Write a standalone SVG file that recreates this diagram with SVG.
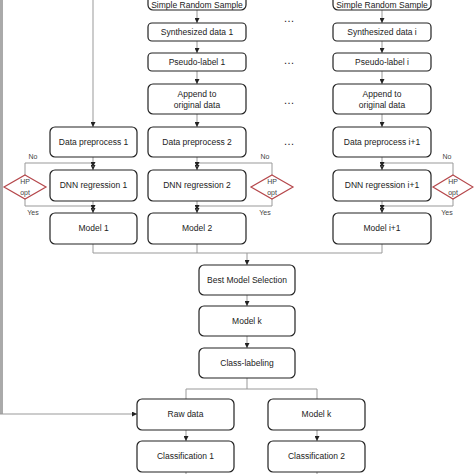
<svg xmlns="http://www.w3.org/2000/svg" width="474" height="474" viewBox="0 0 474 474">
<defs>
<marker id="ar" markerUnits="userSpaceOnUse" markerWidth="5" markerHeight="5" viewBox="0 0 6 6" refX="6" refY="3" orient="auto">
<path d="M0,0 L6,3 L0,6 z" fill="#222"/>
</marker>
<style>
.b{fill:#fff;stroke:#222;stroke-width:1.2}
.d{fill:#fff;stroke:#b5474b;stroke-width:1.2}
.t{font-family:"Liberation Sans",Arial,sans-serif;font-size:8.5px;fill:#222;text-anchor:middle}
.s{font-family:"Liberation Sans",Arial,sans-serif;font-size:7px;fill:#444;text-anchor:middle}
.l{fill:none;stroke:#999;stroke-width:1}
.a{fill:none;stroke:#999;stroke-width:1;marker-end:url(#ar)}
.dots{font-family:"Liberation Sans",Arial,sans-serif;font-size:11px;fill:#222;text-anchor:middle}
</style>
</defs>
<rect width="474" height="474" fill="#fff"/>
<g id="connectors">
<path class="l" d="M1.5,0 V414" style="stroke:#aaa;stroke-width:3"/>
<path class="a" d="M0,414 H137"/>
<path class="a" d="M93,0 V127"/>
<path class="a" d="M197,10 V23"/>
<path class="a" d="M197,41 V53"/>
<path class="a" d="M197,71 V84"/>
<path class="a" d="M197,114 V127"/>
<path class="a" d="M382,10 V23"/>
<path class="a" d="M382,41 V53"/>
<path class="a" d="M382,71 V84"/>
<path class="a" d="M382,114 V127"/>
<path class="a" d="M93,157 V170"/>
<path class="a" d="M93,201 V213"/>
<path class="a" d="M197,157 V170"/>
<path class="a" d="M197,201 V213"/>
<path class="a" d="M382,157 V170"/>
<path class="a" d="M382,201 V213"/>
<path class="a" d="M25,175 V163 H93 V167"/>
<path class="a" d="M25,199 V206 H93 V210"/>
<path class="a" d="M272,175 V163 H197 V167"/>
<path class="a" d="M272,199 V206 H197 V210"/>
<path class="a" d="M453,175 V163 H382 V167"/>
<path class="a" d="M453,199 V206 H382 V210"/>
<path class="l" d="M93,244 V253 M197,244 V253 M382,244 V253 M93,253 H382"/>
<path class="a" d="M247,253 V265"/>
<path class="a" d="M247,295 V306"/>
<path class="a" d="M247,336 V348"/>
<path class="l" d="M247,378 V389 M186,389 H317 M186,389 V399 M317,389 V399"/>
<path class="a" d="M186,430 V441"/>
<path class="a" d="M317,430 V441"/>
<path class="l" d="M186,472 V474 M317,472 V474"/>
</g>
<g id="srs1"><rect class="b" x="148" y="-20" width="98" height="30" rx="5"/><text class="t" x="197" y="7.5">Simple Random Sample</text></g>
<g id="syn1"><rect class="b" x="148" y="23" width="98" height="18" rx="4"/><text class="t" x="197" y="35">Synthesized data 1</text></g>
<g id="pl1"><rect class="b" x="148" y="53" width="98" height="18" rx="4"/><text class="t" x="197" y="65">Pseudo-label 1</text></g>
<g id="app1"><rect class="b" x="148" y="84" width="98" height="30" rx="5"/><text class="t" x="197" y="97">Append to</text><text class="t" x="197" y="108">original data</text></g>
<g id="srsi"><rect class="b" x="333" y="-20" width="98" height="30" rx="5"/><text class="t" x="382" y="7.5">Simple Random Sample</text></g>
<g id="syni"><rect class="b" x="333" y="23" width="98" height="18" rx="4"/><text class="t" x="382" y="35">Synthesized data i</text></g>
<g id="pli"><rect class="b" x="333" y="53" width="98" height="18" rx="4"/><text class="t" x="382" y="65">Pseudo-label i</text></g>
<g id="appi"><rect class="b" x="333" y="84" width="98" height="30" rx="5"/><text class="t" x="382" y="97">Append to</text><text class="t" x="382" y="108">original data</text></g>
<g id="dots"><text class="dots" x="289" y="22">…</text><text class="dots" x="289" y="64">…</text><text class="dots" x="289" y="104">…</text><text class="dots" x="289" y="145">…</text></g>
<g id="dp1"><rect class="b" x="50" y="127" width="87" height="30" rx="5"/><text class="t" x="93.5" y="145">Data preprocess 1</text></g>
<g id="dp2"><rect class="b" x="148" y="127" width="98" height="30" rx="5"/><text class="t" x="197" y="145">Data preprocess 2</text></g>
<g id="dpi"><rect class="b" x="333" y="127" width="98" height="30" rx="5"/><text class="t" x="382" y="145">Data preprocess i+1</text></g>
<g id="dnn1"><rect class="b" x="50" y="170" width="87" height="31" rx="5"/><text class="t" x="93.5" y="188">DNN regression 1</text></g>
<g id="dnn2"><rect class="b" x="148" y="170" width="98" height="31" rx="5"/><text class="t" x="197" y="188">DNN regression 2</text></g>
<g id="dnni"><rect class="b" x="333" y="170" width="98" height="31" rx="5"/><text class="t" x="382" y="188">DNN regression i+1</text></g>
<g id="m1"><rect class="b" x="50" y="213" width="87" height="31" rx="5"/><text class="t" x="93.5" y="231">Model 1</text></g>
<g id="m2"><rect class="b" x="148" y="213" width="98" height="31" rx="5"/><text class="t" x="197" y="231">Model 2</text></g>
<g id="mi"><rect class="b" x="333" y="213" width="98" height="31" rx="5"/><text class="t" x="382" y="231">Model i+1</text></g>
<g id="hp1"><path class="d" d="M25,175 L46,187 L25,199 L4,187 z"/><text class="s" x="25" y="184">HP</text><text class="s" x="25" y="195">opt</text></g>
<g id="hp2"><path class="d" d="M272,175 L293,187 L272,199 L251,187 z"/><text class="s" x="272" y="184">HP</text><text class="s" x="272" y="195">opt</text></g>
<g id="hpi"><path class="d" d="M453,175 L473,187 L453,199 L433,187 z"/><text class="s" x="453" y="184">HP</text><text class="s" x="453" y="195">opt</text></g>
<g id="labels">
<text class="s" x="33" y="159">No</text><text class="s" x="33" y="215">Yes</text>
<text class="s" x="265" y="159">No</text><text class="s" x="265" y="215">Yes</text>
<text class="s" x="447" y="159">No</text><text class="s" x="447" y="215">Yes</text>
</g>
<g id="best"><rect class="b" x="199" y="265" width="96" height="30" rx="5"/><text class="t" x="247" y="283">Best Model Selection</text></g>
<g id="mk"><rect class="b" x="199" y="306" width="96" height="30" rx="5"/><text class="t" x="247" y="324">Model k</text></g>
<g id="cl"><rect class="b" x="199" y="348" width="96" height="30" rx="5"/><text class="t" x="247" y="366">Class-labeling</text></g>
<g id="raw"><rect class="b" x="137" y="399" width="97" height="31" rx="5"/><text class="t" x="185.5" y="417">Raw data</text></g>
<g id="mk2"><rect class="b" x="268" y="399" width="97" height="31" rx="5"/><text class="t" x="316.5" y="417">Model k</text></g>
<g id="c1"><rect class="b" x="137" y="441" width="97" height="31" rx="5"/><text class="t" x="185.5" y="459">Classification 1</text></g>
<g id="c2"><rect class="b" x="268" y="441" width="97" height="31" rx="5"/><text class="t" x="316.5" y="459">Classification 2</text></g>
</svg>
